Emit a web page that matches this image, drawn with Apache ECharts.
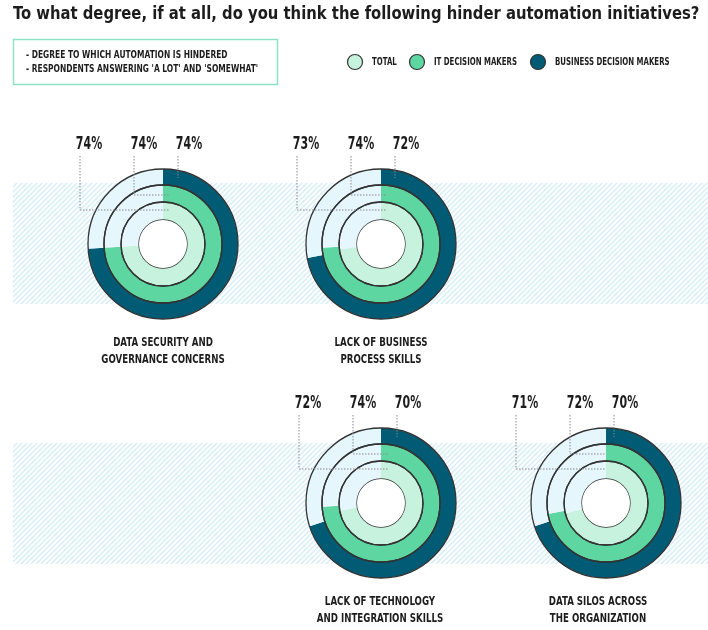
<!DOCTYPE html>
<html>
<head>
<meta charset="utf-8">
<script src="https://cdn.jsdelivr.net/npm/echarts@6/dist/echarts.min.js"></script>
<style>
  html, body { margin: 0; padding: 0; background: #fff; }
  #main { width: 708px; height: 630px; }
</style>
</head>
<body>
<div id="main"></div>
<script>
var categories = [
    'DATA SECURITY AND\nGOVERNANCE CONCERNS',
    'LACK OF BUSINESS\nPROCESS SKILLS',
    'LACK OF TECHNOLOGY\nAND INTEGRATION SKILLS',
    'DATA SILOS ACROSS\nTHE ORGANIZATION'
];
var groups = ['TOTAL', 'IT DECISION MAKERS', 'BUSINESS DECISION MAKERS'];
var total = [74, 73, 72, 71];
var itMakers = [74, 74, 74, 72];
var businessMakers = [74, 72, 70, 70];
var notes = ['- DEGREE TO WHICH AUTOMATION IS HINDERED', "- RESPONDENTS ANSWERING 'A LOT' AND 'SOMEWHAT'"];
var titleText = 'To what degree, if at all, do you think the following hinder automation initiatives?';

var font = "'DejaVu Sans Condensed', 'Liberation Sans Narrow', sans-serif";
var colors = ['#c6f2de', '#5ed6a1', '#015b75'];
var restColor = '#e6f6fd';
var lineColor = '#333';

// layout: donut centres, ring radii, label offsets
var centers = [[163, 244], [381, 244], [381, 503], [606, 503]];
var shift = [0, -1, 1, -7];
var rings = [[24, 42], [42, 59], [59, 75]];
var labelDx = [-74, -19, 26];
var lineDx = [-83, -29, 15];
var lineDy = [-34, -49, -66];
var nameX = [163, 381, 380, 598];
var bands = [183, 443];
var legendX = [355, 417, 538];

// condensed text: the installed fonts are wider than the original, so squeeze them
function txt(x, y, text, size, align, sx, extra) {
    var st = {
        x: 0, y: 0, text: text,
        font: 'bold ' + size + 'px ' + font, fill: '#1c1c1c',
        textAlign: align, textVerticalAlign: 'middle'
    };
    for (var k in extra) st[k] = extra[k];
    return { type: 'text', z: 10, silent: true, x: x, y: y, scaleX: sx, style: st };
}

// hatch pattern for the background bands
var hatch = document.createElement('canvas');
hatch.width = 5;
hatch.height = 5;
var hctx = hatch.getContext('2d');
hctx.strokeStyle = '#d6eef9';
hctx.lineWidth = 1.5;
hctx.beginPath();
hctx.moveTo(0, 5); hctx.lineTo(5, 0);
hctx.moveTo(-1, 1); hctx.lineTo(1, -1);
hctx.moveTo(4, 6); hctx.lineTo(6, 4);
hctx.stroke();

var series = [];
var graphics = [];
var values = [total, itMakers, businessMakers];

bands.forEach(function (y) {
    graphics.push({
        type: 'rect', z: 0, silent: true,
        shape: { x: 13, y: y, width: 695, height: 121 },
        style: { fill: { image: hatch, repeat: 'repeat' } }
    });
});

for (var i = 0; i < categories.length; ++i) {
    var c = centers[i];
    for (var j = 0; j < 3; ++j) {
        var v = values[j][i];
        series.push({
            type: 'pie',
            silent: true,
            center: c,
            radius: rings[j],
            startAngle: 90,
            clockwise: true,
            label: { show: false },
            labelLine: { show: false },
            emphasis: { disabled: true },
            data: [
                { name: groups[j], value: v, itemStyle: { color: colors[j] } },
                { name: '', value: 100 - v, itemStyle: { color: restColor } }
            ]
        });
        // ring outlines
        series.push({
            type: 'pie',
            silent: true,
            z: 3,
            center: c,
            radius: rings[j],
            label: { show: false },
            labelLine: { show: false },
            emphasis: { disabled: true },
            data: [{ name: '', value: 1, itemStyle: { color: 'rgba(0,0,0,0)', borderColor: lineColor, borderWidth: 1.3 } }]
        });

        var vx = c[0] + lineDx[j] + shift[i];
        graphics.push(txt(c[0] + labelDx[j] + shift[i], c[1] - 99, v + '%', 17, 'center', 0.72));
        var pts = [[vx, c[1] - 88], [vx, c[1] + lineDy[j]]];
        if (j < 2) pts.push([c[0] + 6 + shift[i], c[1] + lineDy[j]]);
        graphics.push({
            type: 'polyline', z: 10, silent: true,
            shape: { points: pts },
            style: { stroke: '#8a8a8a', lineWidth: 1, lineDash: [1.5, 1.5], fill: null }
        });
    }
    // white hole
    series.push({
        type: 'pie',
        silent: true,
        z: 3,
        center: c,
        radius: [0, rings[0][0]],
        label: { show: false },
        labelLine: { show: false },
        emphasis: { disabled: true },
        data: [{ name: '', value: 1, itemStyle: { color: '#fff' } }]
    });
    graphics.push(txt(nameX[i], c[1] + 107, categories[i], 13, 'center', 0.74, { lineHeight: 17 }));
}

// title
graphics.push(txt(13, 14, titleText, 18, 'left', 0.915));

// note box
graphics.push({
    type: 'rect', z: 5, silent: true,
    shape: { x: 13.5, y: 39.5, width: 264, height: 45 },
    style: { fill: '#fff', stroke: '#8fe3c2', lineWidth: 1.5 }
});
notes.forEach(function (t, k) {
    graphics.push(txt(26, 55 + k * 14, t, 10, 'left', 0.835));
});

// legend
groups.forEach(function (g, k) {
    graphics.push({
        type: 'circle', z: 10, silent: true,
        shape: { cx: legendX[k], cy: 62, r: 7.5 },
        style: { fill: colors[k], stroke: lineColor, lineWidth: 1.2 }
    });
    graphics.push(txt(legendX[k] + 17, 62, g, 10.5, 'left', 0.74));
});

var chart = echarts.init(document.getElementById('main'));
chart.setOption({
    animation: false,
    graphic: graphics,
    series: series
});
</script>
</body>
</html>
